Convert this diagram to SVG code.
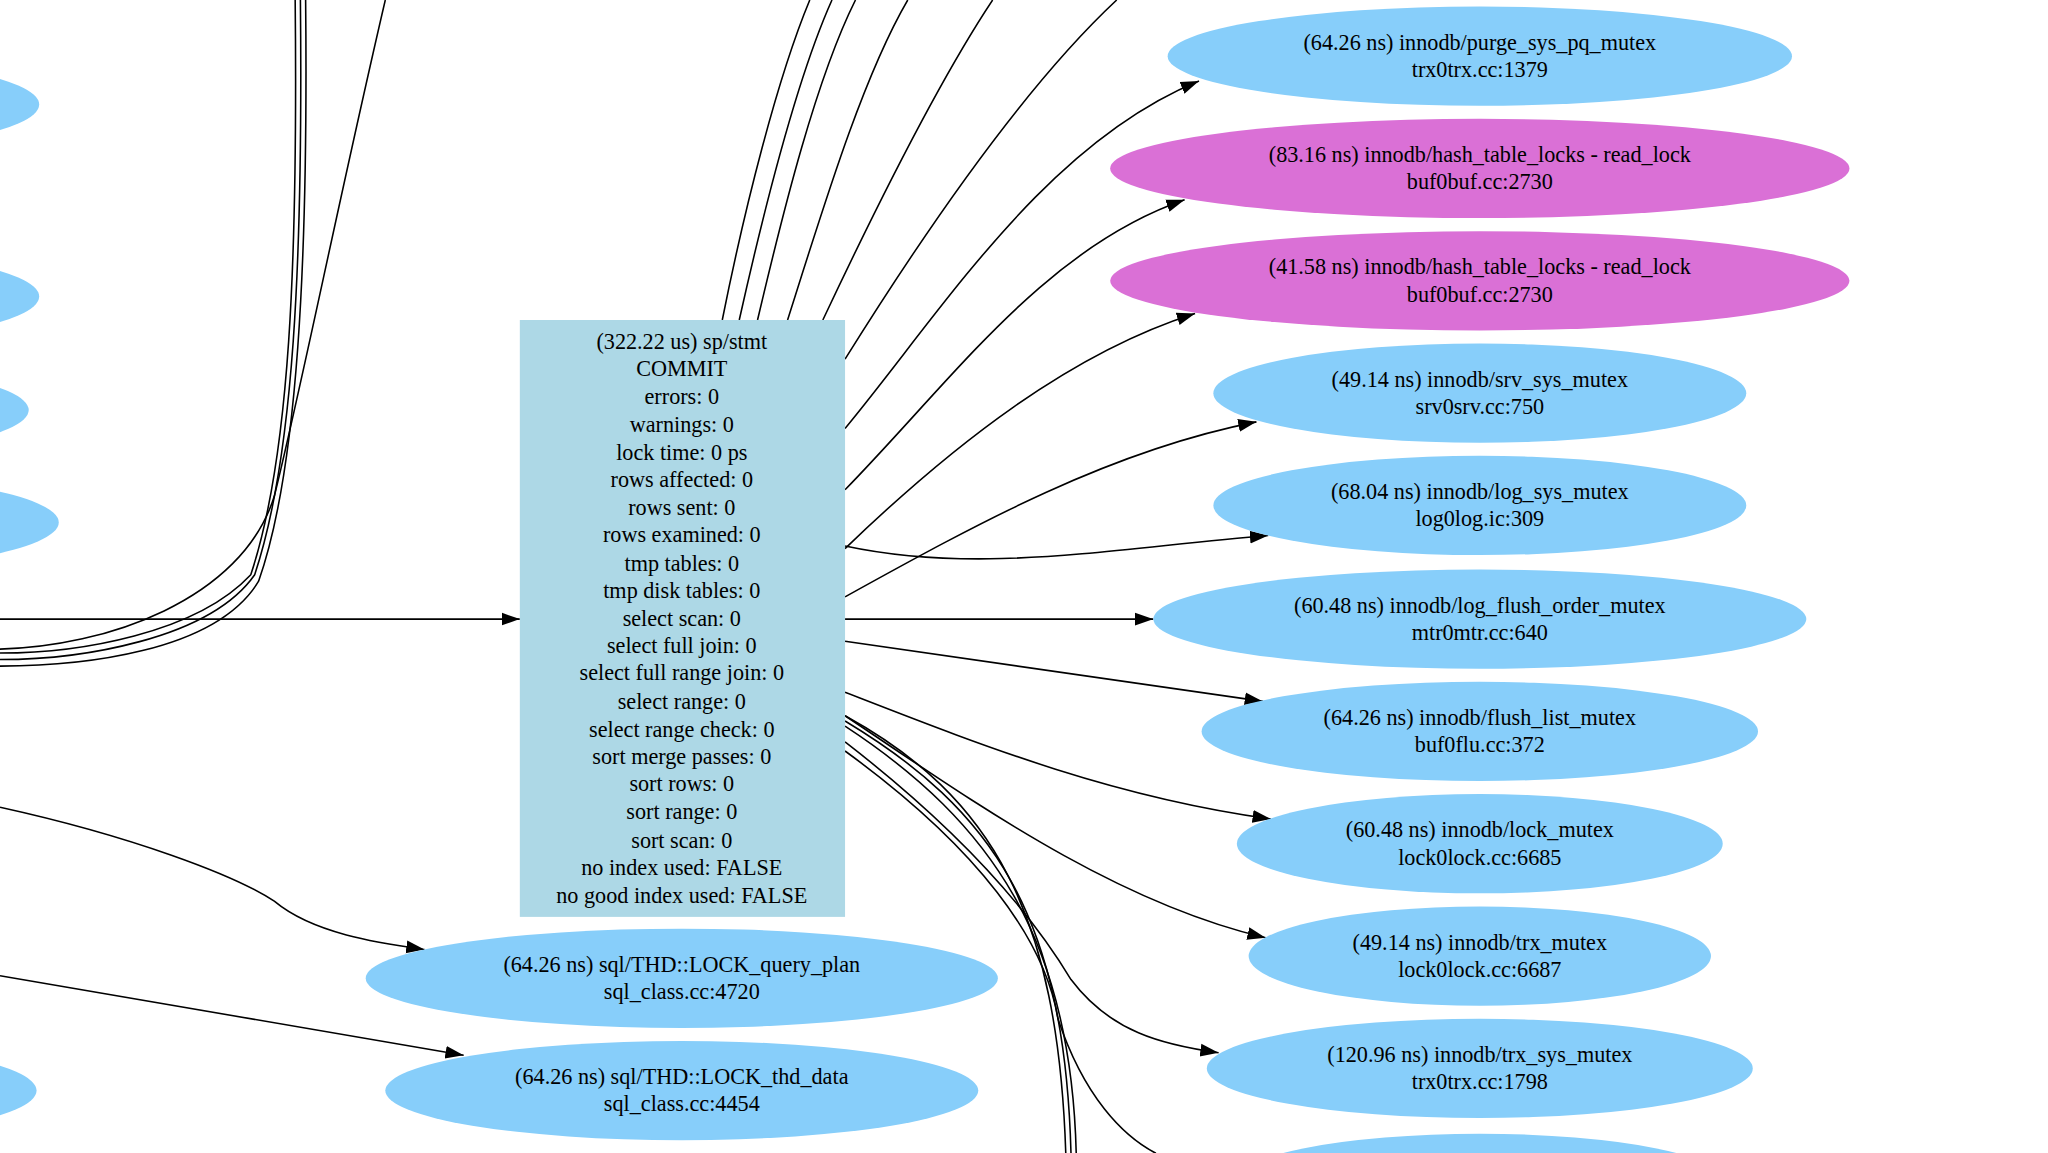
<svg xmlns="http://www.w3.org/2000/svg" width="2048" height="1153" viewBox="0 0 2048 1153">
<style>
.e{fill:#87CEFA}
.m{fill:#DA70D6}
text{font-family:"Liberation Serif",serif;font-size:17px;fill:#000;text-anchor:middle}
.c path{fill:none;stroke:#000;stroke-width:1.2}
</style>
<defs><marker id="a" viewBox="0 0 10 10" refX="10" refY="5" markerWidth="9" markerHeight="9" markerUnits="userSpaceOnUse" orient="auto"><path d="M0,0L10,5L0,10z" fill="#000"/></marker>
<marker id="b" viewBox="0 0 10 10" refX="10" refY="5" markerWidth="14" markerHeight="14" markerUnits="userSpaceOnUse" orient="auto"><path d="M0,1.5L10,5L0,8.5z" fill="#000"/></marker></defs>
<rect width="2048" height="1153" fill="#fff"/>
<g transform="scale(1.3061)">
<g class="c" id="connectors">
<path d="M0,474L398,474" marker-end="url(#b)"/>
<path d="M553,245C570,160 595,60 620,0"/>
<path d="M566,245C585,160 610,60 637,0"/>
<path d="M580,245C600,160 625,60 655,0"/>
<path d="M603,245C630,160 660,60 695,0"/>
<path d="M630,245C670,160 720,60 760,0"/>
<path d="M647,275C700,190 780,70 855,0"/>
<path d="M647,328C720,240 800,110 918,62" marker-end="url(#b)"/>
<path d="M647,375C730,290 800,190 907,153" marker-end="url(#b)"/>
<path d="M647,420C730,340 820,270 915,240" marker-end="url(#b)"/>
<path d="M647,457C750,400 850,345 962,323" marker-end="url(#b)"/>
<path d="M647,418C750,440 850,420 971,410" marker-end="url(#b)"/>
<path d="M647,474L883,474" marker-end="url(#b)"/>
<path d="M647,491L967,537" marker-end="url(#b)"/>
<path d="M647,530C750,570 850,610 973,627" marker-end="url(#b)"/>
<path d="M647,548C740,610 850,690 969,718" marker-end="url(#b)"/>
<path d="M647,568C740,640 790,700 820,750C850,790 890,800 933,806" marker-end="url(#b)"/>
<path d="M647,548C760,610 810,700 816,883"/>
<path d="M647,552C760,620 815,700 820,883"/>
<path d="M647,556C760,630 820,720 824,883"/>
<path d="M647,575C750,650 800,720 810,780C830,840 860,870 885,883"/>
<path d="M230,0C232,200 225,350 195,440C160,490 60,505 0,505"/>
<path d="M226,0C228,200 222,350 192,440C150,485 60,500 0,500"/>
<path d="M234,0C236,200 228,360 198,445C165,500 60,510 0,510"/>
<path d="M295,0C260,150 230,300 210,380C185,460 80,495 0,497"/>
<path d="M0,618C100,640 180,670 210,690C240,715 290,722 325,727" marker-end="url(#b)"/>
<path d="M0,747L355,808" marker-end="url(#b)"/>
</g>
<g id="stmt"><rect x="398" y="245" width="249" height="457" fill="#ADD8E6"/>
<text x="522"><tspan x="522" y="267">(322.22 us) sp/stmt</tspan><tspan x="522" y="288">COMMIT</tspan><tspan x="522" y="309">errors: 0</tspan><tspan x="522" y="331">warnings: 0</tspan><tspan x="522" y="352">lock time: 0 ps</tspan><tspan x="522" y="373">rows affected: 0</tspan><tspan x="522" y="394">rows sent: 0</tspan><tspan x="522" y="415">rows examined: 0</tspan><tspan x="522" y="437">tmp tables: 0</tspan><tspan x="522" y="458">tmp disk tables: 0</tspan><tspan x="522" y="479">select scan: 0</tspan><tspan x="522" y="500">select full join: 0</tspan><tspan x="522" y="521">select full range join: 0</tspan><tspan x="522" y="543">select range: 0</tspan><tspan x="522" y="564">select range check: 0</tspan><tspan x="522" y="585">sort merge passes: 0</tspan><tspan x="522" y="606">sort rows: 0</tspan><tspan x="522" y="627">sort range: 0</tspan><tspan x="522" y="649">sort scan: 0</tspan><tspan x="522" y="670">no index used: FALSE</tspan><tspan x="522" y="691">no good index used: FALSE</tspan></text></g>
<g id="n1"><ellipse class="e" cx="1133" cy="43" rx="239" ry="38"/><text x="1133" y="38">(64.26 ns) innodb/purge_sys_pq_mutex</text><text x="1133" y="59">trx0trx.cc:1379</text></g>
<g id="n2"><ellipse class="m" cx="1133" cy="129" rx="283" ry="38"/><text x="1133" y="124">(83.16 ns) innodb/hash_table_locks - read_lock</text><text x="1133" y="145">buf0buf.cc:2730</text></g>
<g id="n3"><ellipse class="m" cx="1133" cy="215" rx="283" ry="38"/><text x="1133" y="210">(41.58 ns) innodb/hash_table_locks - read_lock</text><text x="1133" y="231">buf0buf.cc:2730</text></g>
<g id="n4"><ellipse class="e" cx="1133" cy="301" rx="204" ry="38"/><text x="1133" y="296">(49.14 ns) innodb/srv_sys_mutex</text><text x="1133" y="317">srv0srv.cc:750</text></g>
<g id="n5"><ellipse class="e" cx="1133" cy="387" rx="204" ry="38"/><text x="1133" y="382">(68.04 ns) innodb/log_sys_mutex</text><text x="1133" y="403">log0log.ic:309</text></g>
<g id="n6"><ellipse class="e" cx="1133" cy="474" rx="250" ry="38"/><text x="1133" y="469">(60.48 ns) innodb/log_flush_order_mutex</text><text x="1133" y="490">mtr0mtr.cc:640</text></g>
<g id="n7"><ellipse class="e" cx="1133" cy="560" rx="213" ry="38"/><text x="1133" y="555">(64.26 ns) innodb/flush_list_mutex</text><text x="1133" y="576">buf0flu.cc:372</text></g>
<g id="n8"><ellipse class="e" cx="1133" cy="646" rx="186" ry="38"/><text x="1133" y="641">(60.48 ns) innodb/lock_mutex</text><text x="1133" y="662">lock0lock.cc:6685</text></g>
<g id="n9"><ellipse class="e" cx="1133" cy="732" rx="177" ry="38"/><text x="1133" y="727">(49.14 ns) innodb/trx_mutex</text><text x="1133" y="748">lock0lock.cc:6687</text></g>
<g id="n10"><ellipse class="e" cx="1133" cy="818" rx="209" ry="38"/><text x="1133" y="813">(120.96 ns) innodb/trx_sys_mutex</text><text x="1133" y="834">trx0trx.cc:1798</text></g>
<g id="n11"><ellipse class="e" cx="1133" cy="906" rx="190" ry="38"/></g>
<g id="n12"><ellipse class="e" cx="522" cy="749" rx="242" ry="38"/><text x="522" y="744">(64.26 ns) sql/THD::LOCK_query_plan</text><text x="522" y="765">sql_class.cc:4720</text></g>
<g id="n13"><ellipse class="e" cx="522" cy="835" rx="227" ry="38"/><text x="522" y="830">(64.26 ns) sql/THD::LOCK_thd_data</text><text x="522" y="851">sql_class.cc:4454</text></g>
<g id="l1"><ellipse class="e" cx="-180" cy="80" rx="210" ry="38"/></g>
<g id="l2"><ellipse class="e" cx="-180" cy="227" rx="210" ry="38"/></g>
<g id="l3"><ellipse class="e" cx="-188" cy="314" rx="210" ry="38"/></g>
<g id="l4"><ellipse class="e" cx="-165" cy="400" rx="210" ry="38"/></g>
<g id="l5"><ellipse class="e" cx="-182" cy="835" rx="210" ry="38"/></g>
</g>
</svg>
